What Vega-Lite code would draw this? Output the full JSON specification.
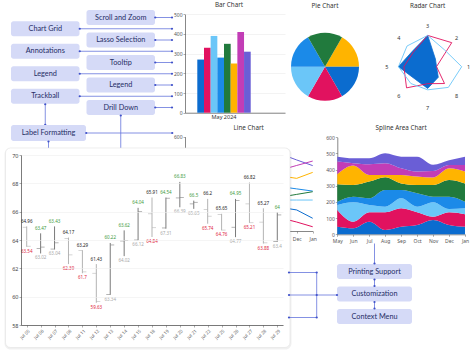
{
"$schema": "https://vega.github.io/schema/vega-lite/v6.json",
"width": 474, "height": 356, "padding": 0, "autosize": {"type": "none"},
"background": "#ffffff",
"config": {
  "view": {"stroke": null},
  "font": "Noto Sans",
  "axis": {"labelFont": "Noto Sans", "labelFontSize": 5, "labelColor": "#555555", "domainColor": "#555555", "domainWidth": 0.7, "tickColor": "#777777", "tickSize": 2, "tickWidth": 0.6, "labelPadding": 1, "gridColor": "#ebebeb", "gridWidth": 0.6, "grid": false}
},
"datasets": {
  "boxes": [
    {"key": "scroll", "label": "Scroll and Zoom", "col": "mid"},
    {"key": "chartgrid", "label": "Chart Grid", "col": "left"},
    {"key": "lasso", "label": "Lasso Selection", "col": "mid"},
    {"key": "annotations", "label": "Annotations", "col": "left"},
    {"key": "tooltip", "label": "Tooltip", "col": "mid"},
    {"key": "legend1", "label": "Legend", "col": "left"},
    {"key": "legend2", "label": "Legend", "col": "mid"},
    {"key": "trackball", "label": "Trackball", "col": "left"},
    {"key": "drill", "label": "Drill Down", "col": "mid"}
  ],
  "right": [
    {"key": "print", "label": "Printing Support"},
    {"key": "custom", "label": "Customization"},
    {"key": "context", "label": "Context Menu"}
  ],
  "bars": [
    {"month": "May 2024", "s": "s1", "v": 270},
    {"month": "May 2024", "s": "s2", "v": 330},
    {"month": "May 2024", "s": "s3", "v": 390},
    {"month": "May 2024", "s": "s4", "v": 280},
    {"month": "May 2024", "s": "s5", "v": 350},
    {"month": "May 2024", "s": "s6", "v": 250},
    {"month": "May 2024", "s": "s7", "v": 410},
    {"month": "May 2024", "s": "s8", "v": 310}
  ],
  "pie": [
    {"slice": "A", "value": 60},
    {"slice": "B", "value": 60},
    {"slice": "C", "value": 60},
    {"slice": "D", "value": 60},
    {"slice": "E", "value": 60},
    {"slice": "F", "value": 60}
  ],
  "radar": [
    {"series": "blue", "axis": 1, "value": 1.3}, {"series": "blue", "axis": 2, "value": 1.6}, {"series": "blue", "axis": 3, "value": 4.6}, {"series": "blue", "axis": 4, "value": 3.2},
    {"series": "blue", "axis": 5, "value": 4.3}, {"series": "blue", "axis": 6, "value": 2.6}, {"series": "blue", "axis": 7, "value": 3.2}, {"series": "blue", "axis": 8, "value": 2.2},
    {"series": "crimson", "axis": 1, "value": 1.3}, {"series": "crimson", "axis": 2, "value": 5.0}, {"series": "crimson", "axis": 3, "value": 4.6}, {"series": "crimson", "axis": 4, "value": 3.0},
    {"series": "crimson", "axis": 5, "value": 3.5}, {"series": "crimson", "axis": 6, "value": 4.4}, {"series": "crimson", "axis": 7, "value": 2.5}, {"series": "crimson", "axis": 8, "value": 3.5},
    {"series": "light", "axis": 1, "value": 5.0}, {"series": "light", "axis": 2, "value": 3.5}, {"series": "light", "axis": 3, "value": 4.6}, {"series": "light", "axis": 4, "value": 4.3},
    {"series": "light", "axis": 5, "value": 4.3}, {"series": "light", "axis": 6, "value": 3.5}, {"series": "light", "axis": 7, "value": 3.4}, {"series": "light", "axis": 8, "value": 4.3}
  ],
  "lines": [
    {"s": "s8", "m": "Nov", "v": 490}, {"s": "s8", "m": "Dec", "v": 452}, {"s": "s8", "m": "Jan", "v": 416},
    {"s": "s7", "m": "Nov", "v": 388}, {"s": "s7", "m": "Dec", "v": 417}, {"s": "s7", "m": "Jan", "v": 445},
    {"s": "s6", "m": "Nov", "v": 350}, {"s": "s6", "m": "Dec", "v": 335}, {"s": "s6", "m": "Jan", "v": 373},
    {"s": "s4", "m": "Nov", "v": 282}, {"s": "s4", "m": "Dec", "v": 268}, {"s": "s4", "m": "Jan", "v": 254},
    {"s": "s5", "m": "Nov", "v": 216}, {"s": "s5", "m": "Dec", "v": 233}, {"s": "s5", "m": "Jan", "v": 250},
    {"s": "s3", "m": "Nov", "v": 197}, {"s": "s3", "m": "Dec", "v": 197}, {"s": "s3", "m": "Jan", "v": 197},
    {"s": "s1", "m": "Nov", "v": 150}, {"s": "s1", "m": "Dec", "v": 134}, {"s": "s1", "m": "Jan", "v": 81},
    {"s": "s2", "m": "Nov", "v": 83}, {"s": "s2", "m": "Dec", "v": 57}, {"s": "s2", "m": "Jan", "v": 27}
  ],
  "spline": [
    {"s": "s1", "m": "May", "v": 47}, {"s": "s1", "m": "Jun", "v": 37}, {"s": "s1", "m": "Jul", "v": 78}, {"s": "s1", "m": "Aug", "v": 27}, {"s": "s1", "m": "Sep", "v": 47}, {"s": "s1", "m": "Oct", "v": 58}, {"s": "s1", "m": "Nov", "v": 89}, {"s": "s1", "m": "Dec", "v": 58}, {"s": "s1", "m": "Jan", "v": 47},
    {"s": "s2", "m": "May", "v": 103}, {"s": "s2", "m": "Jun", "v": 41}, {"s": "s2", "m": "Jul", "v": 58}, {"s": "s2", "m": "Aug", "v": 109}, {"s": "s2", "m": "Sep", "v": 114}, {"s": "s2", "m": "Oct", "v": 78}, {"s": "s2", "m": "Nov", "v": 20}, {"s": "s2", "m": "Dec", "v": 78}, {"s": "s2", "m": "Jan", "v": 77},
    {"s": "s3", "m": "May", "v": 31}, {"s": "s3", "m": "Jun", "v": 120}, {"s": "s3", "m": "Jul", "v": 45}, {"s": "s3", "m": "Aug", "v": 35}, {"s": "s3", "m": "Sep", "v": 62}, {"s": "s3", "m": "Oct", "v": 35}, {"s": "s3", "m": "Nov", "v": 89}, {"s": "s3", "m": "Dec", "v": 20}, {"s": "s3", "m": "Jan", "v": 37},
    {"s": "s4", "m": "May", "v": 21}, {"s": "s4", "m": "Jun", "v": 35}, {"s": "s4", "m": "Jul", "v": 42}, {"s": "s4", "m": "Aug", "v": 103}, {"s": "s4", "m": "Sep", "v": 51}, {"s": "s4", "m": "Oct", "v": 83}, {"s": "s4", "m": "Nov", "v": 35}, {"s": "s4", "m": "Dec", "v": 77}, {"s": "s4", "m": "Jan", "v": 41},
    {"s": "s5", "m": "May", "v": 107}, {"s": "s5", "m": "Jun", "v": 72}, {"s": "s5", "m": "Jul", "v": 103}, {"s": "s5", "m": "Aug", "v": 79}, {"s": "s5", "m": "Sep", "v": 41}, {"s": "s5", "m": "Oct", "v": 51}, {"s": "s5", "m": "Nov", "v": 72}, {"s": "s5", "m": "Dec", "v": 103}, {"s": "s5", "m": "Jan", "v": 113},
    {"s": "s6", "m": "May", "v": 62}, {"s": "s6", "m": "Jun", "v": 120}, {"s": "s6", "m": "Jul", "v": 41}, {"s": "s6", "m": "Aug", "v": 14}, {"s": "s6", "m": "Sep", "v": 52}, {"s": "s6", "m": "Oct", "v": 52}, {"s": "s6", "m": "Nov", "v": 46}, {"s": "s6", "m": "Dec", "v": 72}, {"s": "s6", "m": "Jan", "v": 73},
    {"s": "s7", "m": "May", "v": 79}, {"s": "s7", "m": "Jun", "v": 15}, {"s": "s7", "m": "Jul", "v": 66}, {"s": "s7", "m": "Aug", "v": 72}, {"s": "s7", "m": "Sep", "v": 41}, {"s": "s7", "m": "Oct", "v": 31}, {"s": "s7", "m": "Nov", "v": 40}, {"s": "s7", "m": "Dec", "v": 20}, {"s": "s7", "m": "Jan", "v": 41},
    {"s": "s8", "m": "May", "v": 30}, {"s": "s8", "m": "Jun", "v": 30}, {"s": "s8", "m": "Jul", "v": 37}, {"s": "s8", "m": "Aug", "v": 62}, {"s": "s8", "m": "Sep", "v": 72}, {"s": "s8", "m": "Oct", "v": 92}, {"s": "s8", "m": "Nov", "v": 39}, {"s": "s8", "m": "Dec", "v": 30}, {"s": "s8", "m": "Jan", "v": 51}
  ],
  "ohlc": [
    {"d": "Jul 05", "o": 64.9, "h": 64.96, "l": 63.52, "c": 63.56, "t": "bear", "hl": "64.96", "ll": "63.54"},
    {"d": "Jul 06", "o": 63.4, "h": 64.47, "l": 63.05, "c": 63.5, "t": "bull", "hl": "63.47", "ll": "63.02"},
    {"d": "Jul 07", "o": 63.36, "h": 64.96, "l": 63.33, "c": 63.8, "t": "bull", "hl": "63.43", "ll": "63.04"},
    {"d": "Jul 08", "o": 64.1, "h": 64.17, "l": 62.3, "c": 62.95, "t": "bear", "hl": "64.17", "ll": "62.39"},
    {"d": "Jul 11", "o": 63.25, "h": 63.28, "l": 61.65, "c": 61.75, "t": "bear", "hl": "63.29", "ll": "61.7"},
    {"d": "Jul 12", "o": 61.65, "h": 62.3, "l": 59.57, "c": 59.65, "t": "bear", "hl": "61.43", "ll": "59.63"},
    {"d": "Jul 13", "o": 60.15, "h": 63.79, "l": 60.13, "c": 63.65, "t": "bull", "hl": "60.22", "ll": "63.34"},
    {"d": "Jul 14", "o": 63.93, "h": 64.68, "l": 62.86, "c": 63.95, "t": "bull", "hl": "63.62", "ll": "64.02"},
    {"d": "Jul 15", "o": 64.0, "h": 66.27, "l": 63.98, "c": 66.0, "t": "bull", "hl": "64.04", "ll": "66.12"},
    {"d": "Jul 18", "o": 65.85, "h": 67.0, "l": 64.21, "c": 64.87, "t": "bear", "hl": "65.91", "ll": "64.84"},
    {"d": "Jul 19", "o": 64.85, "h": 67.0, "l": 64.8, "c": 66.95, "t": "bull", "hl": "64.54", "ll": "67.31"},
    {"d": "Jul 20", "o": 66.97, "h": 68.1, "l": 66.31, "c": 67.0, "t": "bull", "hl": "66.83", "ll": "66.39"},
    {"d": "Jul 21", "o": 66.55, "h": 66.78, "l": 66.2, "c": 66.66, "t": "bull", "hl": "66.5", "ll": "65.65"},
    {"d": "Jul 22", "o": 66.15, "h": 66.9, "l": 65.15, "c": 65.68, "t": "bear", "hl": "66.2", "ll": "65.74"},
    {"d": "Jul 25", "o": 65.8, "h": 65.85, "l": 64.68, "c": 64.7, "t": "bear", "hl": "65.65", "ll": "64.76"},
    {"d": "Jul 26", "o": 64.9, "h": 66.9, "l": 64.2, "c": 66.78, "t": "bull", "hl": "64.95", "ll": "64.77"},
    {"d": "Jul 27", "o": 66.55, "h": 68.06, "l": 65.21, "c": 65.22, "t": "bear", "hl": "66.82", "ll": "65.21"},
    {"d": "Jul 28", "o": 65.26, "h": 66.24, "l": 63.75, "c": 63.8, "t": "bear", "hl": "65.27", "ll": "63.88"},
    {"d": "Jul 29", "o": 63.9, "h": 65.96, "l": 63.88, "c": 65.77, "t": "bull", "hl": "64", "ll": "63.4"}
  ]
},
"resolve": {
  "scale": {"x": "independent", "y": "independent", "color": "independent", "theta": "independent", "size": "independent", "xOffset": "independent"},
  "axis": {"x": "independent", "y": "independent"},
  "legend": {"color": "independent", "size": "independent"}
},
"layer": [
  {
    "data": {"name": "boxes"},
    "encoding": {
      "x": {"field": "col", "type": "nominal", "scale": {"type": "point", "domain": ["left", "mid"], "range": [45.25, 120.75], "padding": 0}, "axis": null},
      "y": {"field": "key", "type": "nominal", "scale": {"type": "point", "domain": ["scroll", "chartgrid", "lasso", "annotations", "tooltip", "legend1", "legend2", "trackball", "drill"], "range": [17.5, 107.5], "padding": 0}, "axis": null}
    },
    "layer": [
      {"transform": [{"filter": "datum.col == 'left'"}], "mark": {"type": "rule", "color": "#6575dc", "strokeWidth": 0.8, "xOffset": 34, "x2Offset": 126.75}, "encoding": {"x2": {"field": "col"}}},
      {"transform": [{"filter": "datum.col == 'mid'"}], "mark": {"type": "rule", "color": "#6575dc", "strokeWidth": 0.8, "xOffset": 34, "x2Offset": 51.25}, "encoding": {"x2": {"field": "col"}}},
      {"transform": [{"filter": "datum.key == 'trackball'"}], "mark": {"type": "rule", "color": "#6575dc", "strokeWidth": 0.8, "yOffset": 7.5, "y2Offset": 28.5}, "encoding": {"y2": {"field": "key"}}},
      {"transform": [{"filter": "datum.key == 'drill'"}], "mark": {"type": "rule", "color": "#6575dc", "strokeWidth": 0.8, "yOffset": 7.5, "y2Offset": 45}, "encoding": {"y2": {"field": "key"}}},
      {"mark": {"type": "rect", "color": "#d5daf7", "cornerRadius": 2.5, "xOffset": -34.25, "x2Offset": 34.25, "yOffset": -7.5, "y2Offset": 7.5}, "encoding": {"x2": {"field": "col"}, "y2": {"field": "key"}}},
      {"mark": {"type": "circle", "size": 5, "color": "#3f51c9", "opacity": 1, "xOffset": 34.5}},
      {"transform": [{"filter": "datum.col == 'left'"}], "mark": {"type": "circle", "size": 5, "color": "#3f51c9", "opacity": 1, "xOffset": 126.75}},
      {"transform": [{"filter": "datum.col == 'mid'"}], "mark": {"type": "circle", "size": 5, "color": "#3f51c9", "opacity": 1, "xOffset": 51.25}},
      {"transform": [{"filter": "datum.key == 'trackball' || datum.key == 'drill'"}], "mark": {"type": "circle", "size": 5, "color": "#3f51c9", "opacity": 1, "yOffset": 8}},
      {"transform": [{"filter": "datum.key == 'trackball'"}], "mark": {"type": "circle", "size": 5, "color": "#3f51c9", "opacity": 1, "yOffset": 28.5}},
      {"mark": {"type": "text", "font": "Lato", "fontSize": 7.3, "color": "#262e66"}, "encoding": {"text": {"field": "label"}}}
    ]
  },
  {
    "data": {"values": [{"key": "lf", "label": "Label Formatting"}]},
    "encoding": {
      "x": {"field": "key", "type": "nominal", "scale": {"type": "point", "domain": ["lf"], "range": [47.5, 49.5]}, "axis": null},
      "y": {"field": "key", "type": "nominal", "scale": {"type": "point", "domain": ["lf"], "range": [132, 134]}, "axis": null}
    },
    "layer": [
      {"mark": {"type": "rule", "color": "#6575dc", "strokeWidth": 0.8, "xOffset": 37, "x2Offset": 123.75}, "encoding": {"x2": {"field": "key"}}},
      {"mark": {"type": "rule", "color": "#6575dc", "strokeWidth": 0.8, "yOffset": 8, "y2Offset": 25}, "encoding": {"y2": {"field": "key"}}},
      {"mark": {"type": "rect", "color": "#d5daf7", "cornerRadius": 2.5, "xOffset": -37.5, "x2Offset": 37.5, "yOffset": -8, "y2Offset": 8}, "encoding": {"x2": {"field": "key"}, "y2": {"field": "key"}}},
      {"mark": {"type": "circle", "size": 5, "color": "#3f51c9", "opacity": 1, "xOffset": 37.75}},
      {"mark": {"type": "circle", "size": 5, "color": "#3f51c9", "opacity": 1, "xOffset": 123.75}},
      {"mark": {"type": "circle", "size": 5, "color": "#3f51c9", "opacity": 1, "yOffset": 8.5}},
      {"mark": {"type": "text", "font": "Lato", "fontSize": 7.3, "color": "#262e66"}, "encoding": {"text": {"field": "label"}}}
    ]
  },
  {
    "layer": [
      {
        "data": {"name": "bars"},
        "mark": {"type": "bar"},
        "encoding": {
          "x": {"field": "month", "type": "nominal", "title": null, "scale": {"type": "band", "domain": ["May 2024"], "range": [185, 285], "paddingInner": 0, "paddingOuter": 0.436, "align": 0.264}, "axis": {"orient": "bottom", "offset": -243.3, "labelAngle": 0, "ticks": false, "labelFontSize": 5.5, "labelColor": "#333333", "labelPadding": 2}},
          "xOffset": {"field": "s", "type": "nominal", "scale": {"paddingInner": 0}},
          "y": {"field": "v", "type": "quantitative", "title": null, "scale": {"domain": [0, 500], "range": [112.7, 14.3], "nice": false}, "axis": {"orient": "left", "offset": -185, "values": [0, 100, 200, 300, 400, 500], "grid": true}},
          "color": {"field": "s", "type": "nominal", "scale": {"domain": ["s1", "s2", "s3", "s4", "s5", "s6", "s7", "s8"], "range": ["#0b6ccf", "#e1125f", "#6bc6f8", "#1b8ae8", "#217a3d", "#ffb400", "#c23db6", "#6a5ed6"]}, "legend": null}
        }
      },
      {
        "data": {"values": [{"t": "Bar Chart"}]},
        "mark": {"type": "text", "fontSize": 6.3, "color": "#333333", "yOffset": -9, "xOffset": 5},
        "encoding": {"x": {"datum": "May 2024"}, "y": {"datum": 500}, "text": {"field": "t"}}
      }
    ]
  },
  {
    "layer": [
      {
        "data": {"name": "pie"},
        "mark": {"type": "arc", "outerRadius": 34},
        "encoding": {
          "theta": {"field": "value", "type": "quantitative", "stack": true, "scale": {"range": [0.5236, 6.8068]}},
          "order": {"field": "slice", "sort": "ascending"},
          "color": {"field": "slice", "type": "nominal", "scale": {"domain": ["A", "B", "C", "D", "E", "F"], "range": ["#ffb400", "#0b6ccf", "#e1125f", "#6bc6f8", "#1b8ae8", "#217a3d"]}, "legend": null},
          "x": {"datum": 0, "type": "quantitative", "scale": {"domain": [-1, 1], "range": [291, 359]}, "axis": null},
          "y": {"datum": 0, "type": "quantitative", "scale": {"domain": [-1, 1], "range": [100.7, 32.7]}, "axis": null}
        }
      },
      {
        "data": {"values": [{"t": "Pie Chart"}]},
        "mark": {"type": "text", "fontSize": 6.3, "color": "#333333", "yOffset": -27},
        "encoding": {"x": {"datum": 0, "type": "quantitative"}, "y": {"datum": 1, "type": "quantitative"}, "text": {"field": "t"}}
      }
    ]
  },
  {
    "data": {"values": [{"t": "Radar Chart"}]},
    "mark": {"type": "text", "fontSize": 6.3, "color": "#333333"},
    "encoding": {
      "x": {"datum": 0, "type": "quantitative", "scale": {"domain": [-1, 1], "range": [426.7, 428.7]}, "axis": null},
      "y": {"datum": 0, "type": "quantitative", "scale": {"domain": [-1, 1], "range": [6.7, 4.7]}, "axis": null},
      "text": {"field": "t"}
    }
  },
  {
    "encoding": {
      "x": {"field": "px", "type": "quantitative", "scale": {"domain": [-5, 5], "range": [393.7, 461.7], "nice": false, "zero": false}, "axis": null},
      "y": {"field": "py", "type": "quantitative", "scale": {"domain": [-5, 5], "range": [100.7, 32.7], "nice": false, "zero": false}, "axis": null}
    },
    "layer": [
      {
        "data": {"values": [{"r": 1}, {"r": 2}, {"r": 3}, {"r": 4}, {"r": 5}]},
        "mark": {"type": "point", "shape": "circle", "filled": false, "strokeWidth": 0.5, "color": "#f0c6d2", "opacity": 1},
        "encoding": {
          "x": {"datum": 0, "type": "quantitative"}, "y": {"datum": 0, "type": "quantitative"},
          "size": {"field": "r", "type": "quantitative", "scale": {"type": "pow", "exponent": 2, "domain": [0, 5], "range": [0, 4624]}, "legend": null}
        }
      },
      {
        "data": {"name": "radar"},
        "transform": [
          {"calculate": "(datum.axis - 1) * PI / 4", "as": "ang"},
          {"calculate": "datum.value * cos(datum.ang)", "as": "px"},
          {"calculate": "datum.value * sin(datum.ang)", "as": "py"}
        ],
        "layer": [
          {"transform": [{"filter": "datum.series == 'blue'"}], "mark": {"type": "line", "interpolate": "linear-closed", "fill": "#0b6ccf", "stroke": "#0b6ccf", "strokeWidth": 0.8}, "encoding": {"order": {"field": "axis", "type": "quantitative"}}},
          {"transform": [{"filter": "datum.series == 'crimson'"}], "mark": {"type": "line", "interpolate": "linear-closed", "stroke": "#e1125f", "strokeWidth": 0.9}, "encoding": {"order": {"field": "axis", "type": "quantitative"}}},
          {"transform": [{"filter": "datum.series == 'light'"}], "mark": {"type": "line", "interpolate": "linear-closed", "stroke": "#6bc6f8", "strokeWidth": 0.9}, "encoding": {"order": {"field": "axis", "type": "quantitative"}}}
        ]
      },
      {
        "data": {"values": [{"v": 0}, {"v": 1}, {"v": 2}, {"v": 3}, {"v": 4}, {"v": 5}]},
        "layer": [
          {"mark": {"type": "rule", "color": "#333333", "strokeWidth": 0.7}, "encoding": {"x": {"datum": 0, "type": "quantitative"}, "x2": {"datum": 5}, "y": {"datum": 0, "type": "quantitative"}}},
          {"mark": {"type": "text", "fontSize": 4.5, "dy": 5, "color": "#333333"}, "encoding": {"x": {"field": "v", "type": "quantitative"}, "y": {"datum": 0, "type": "quantitative"}, "text": {"field": "v"}}}
        ]
      },
      {
        "data": {"values": [{"axis": 1}, {"axis": 2}, {"axis": 3}, {"axis": 4}, {"axis": 5}, {"axis": 6}, {"axis": 7}, {"axis": 8}]},
        "transform": [
          {"calculate": "(datum.axis - 1) * PI / 4", "as": "ang"},
          {"calculate": "6 * cos(datum.ang)", "as": "px"},
          {"calculate": "6 * sin(datum.ang)", "as": "py"}
        ],
        "mark": {"type": "text", "fontSize": 5.5, "color": "#333333"},
        "encoding": {"text": {"field": "axis"}}
      }
    ]
  },
  {
    "layer": [
      {
        "data": {"name": "lines"},
        "mark": {"type": "line", "strokeWidth": 1},
        "encoding": {
          "x": {"field": "m", "type": "ordinal", "title": null, "scale": {"type": "point", "domain": ["May", "Jun", "Jul", "Aug", "Sep", "Oct", "Nov", "Dec", "Jan"], "range": [184.7, 312.7], "padding": 0}, "axis": {"orient": "bottom", "offset": -125, "labelAngle": 0, "labelPadding": 3, "values": ["Dec", "Jan"]}},
          "y": {"field": "v", "type": "quantitative", "title": null, "scale": {"domain": [0, 600], "range": [231, 136.7], "nice": false}, "axis": {"orient": "left", "offset": -185, "values": [600]}},
          "color": {"field": "s", "type": "nominal", "scale": {"domain": ["s1", "s2", "s3", "s4", "s5", "s6", "s7", "s8"], "range": ["#0b6ccf", "#e1125f", "#6bc6f8", "#1b8ae8", "#217a3d", "#ffb400", "#c23db6", "#6a5ed6"]}, "legend": null}
        }
      },
      {
        "data": {"values": [{"t": "Line Chart"}]},
        "mark": {"type": "text", "fontSize": 6.3, "color": "#333333", "yOffset": -9},
        "encoding": {"x": {"datum": "Sep"}, "y": {"datum": 600}, "text": {"field": "t"}}
      }
    ]
  },
  {
    "layer": [
      {
        "data": {"name": "spline"},
        "mark": {"type": "area", "interpolate": "monotone"},
        "encoding": {
          "x": {"field": "m", "type": "ordinal", "title": null, "scale": {"type": "point", "domain": ["May", "Jun", "Jul", "Aug", "Sep", "Oct", "Nov", "Dec", "Jan"], "range": [337.3, 465], "padding": 0}, "axis": {"orient": "bottom", "offset": -121.7, "labelAngle": 0, "labelPadding": 2}},
          "y": {"field": "v", "type": "quantitative", "title": null, "stack": "zero", "scale": {"domain": [0, 600], "range": [234.3, 137.3], "nice": false}, "axis": {"orient": "left", "offset": -337.3, "values": [0, 100, 200, 300, 400, 500, 600]}},
          "color": {"field": "s", "type": "nominal", "scale": {"domain": ["s1", "s2", "s3", "s4", "s5", "s6", "s7", "s8"], "range": ["#0b6ccf", "#e1125f", "#6bc6f8", "#1b8ae8", "#217a3d", "#ffb400", "#c23db6", "#6a5ed6"]}, "legend": null},
          "order": {"field": "s", "sort": "ascending"}
        }
      },
      {
        "data": {"values": [{"t": "Spline Area Chart"}]},
        "mark": {"type": "text", "fontSize": 6.3, "color": "#333333", "yOffset": -9},
        "encoding": {"x": {"datum": "Sep"}, "y": {"datum": 600}, "text": {"field": "t"}}
      }
    ]
  },
  {
    "data": {"values": [{"panel": "card"}]},
    "encoding": {
      "x": {"datum": 0, "type": "quantitative", "scale": {"domain": [0, 1], "range": [5.5, 290]}, "axis": null},
      "x2": {"datum": 1},
      "y": {"datum": 0, "type": "quantitative", "scale": {"domain": [0, 1], "range": [148, 347.5]}, "axis": null},
      "y2": {"datum": 1}
    },
    "layer": [
      {"mark": {"type": "rect", "cornerRadius": 6, "color": "#000000", "opacity": 0.06, "xOffset": -1, "x2Offset": 1.5, "yOffset": 0, "y2Offset": 2}},
      {"mark": {"type": "rect", "cornerRadius": 5, "fill": "#ffffff", "stroke": "#e2e2e2", "strokeWidth": 0.6}}
    ]
  },
  {
    "data": {"name": "ohlc"},
    "encoding": {
      "x": {"field": "d", "type": "ordinal", "title": null, "scale": {"type": "point", "domain": ["Jul 05", "Jul 06", "Jul 07", "Jul 08", "Jul 11", "Jul 12", "Jul 13", "Jul 14", "Jul 15", "Jul 18", "Jul 19", "Jul 20", "Jul 21", "Jul 22", "Jul 25", "Jul 26", "Jul 27", "Jul 28", "Jul 29"], "range": [21, 283], "padding": 0.41}, "axis": {"orient": "bottom", "offset": -31, "zindex": 1, "labelAngle": -45, "labelFontSize": 4.5, "labelColor": "#666666", "domainColor": "#444444"}}
    },
    "layer": [
      {
        "mark": {"type": "rule", "strokeWidth": 1},
        "encoding": {
          "y": {"field": "l", "type": "quantitative", "title": null, "scale": {"domain": [58, 70], "range": [325, 155], "nice": false, "zero": false}, "axis": {"orient": "left", "offset": -21, "zindex": 1, "values": [58, 60, 62, 64, 66, 68, 70], "grid": true, "gridColor": "#efefef", "labelFontSize": 5.5, "labelColor": "#444444", "domainColor": "#444444"}},
          "y2": {"field": "h"},
          "color": {"condition": {"test": "datum.t == 'bull'", "value": "#7a7a7a"}, "value": "#b3b3b3"}
        }
      },
      {
        "mark": {"type": "tick", "size": 4, "thickness": 0.8, "xOffset": -2, "orient": "horizontal"},
        "encoding": {"y": {"field": "o", "type": "quantitative"}, "color": {"condition": {"test": "datum.t == 'bull'", "value": "#7a7a7a"}, "value": "#b3b3b3"}}
      },
      {
        "mark": {"type": "tick", "size": 4, "thickness": 0.8, "xOffset": 2, "orient": "horizontal"},
        "encoding": {"y": {"field": "c", "type": "quantitative"}, "color": {"condition": {"test": "datum.t == 'bull'", "value": "#7a7a7a"}, "value": "#b3b3b3"}}
      },
      {
        "mark": {"type": "text", "fontSize": 4.5, "dy": -4.5},
        "encoding": {"y": {"field": "h", "type": "quantitative"}, "text": {"field": "hl"}, "color": {"condition": {"test": "datum.t == 'bull'", "value": "#3d9a3d"}, "value": "#222222"}}
      },
      {
        "mark": {"type": "text", "fontSize": 4.5, "dy": 5},
        "encoding": {"y": {"field": "l", "type": "quantitative"}, "text": {"field": "ll"}, "color": {"condition": {"test": "datum.t == 'bull'", "value": "#a8a8a8"}, "value": "#e0253c"}}
      }
    ]
  },
  {
    "data": {"name": "right"},
    "encoding": {
      "x": {"datum": "r", "type": "nominal", "scale": {"type": "point", "domain": ["r"], "range": [373.5, 375.5]}, "axis": null},
      "y": {"field": "key", "type": "nominal", "scale": {"type": "point", "domain": ["print", "custom", "context"], "range": [271.5, 316.5], "padding": 0}, "axis": null}
    },
    "layer": [
      {"mark": {"type": "rule", "color": "#6575dc", "strokeWidth": 0.8, "xOffset": -85.5, "x2Offset": -57.8, "yOffset": 1}, "encoding": {"x2": {"datum": "r"}}},
      {"transform": [{"filter": "datum.key == 'print'"}], "mark": {"type": "rule", "color": "#6575dc", "strokeWidth": 0.8, "xOffset": -57.8, "yOffset": 1, "y2Offset": 1}, "encoding": {"y2": {"datum": "context"}}},
      {"transform": [{"filter": "datum.key == 'custom'"}], "mark": {"type": "rule", "color": "#6575dc", "strokeWidth": 0.8, "xOffset": -57.8, "x2Offset": -37.5, "yOffset": 1}, "encoding": {"x2": {"datum": "r"}}},
      {"transform": [{"filter": "datum.key == 'print'"}], "mark": {"type": "rule", "color": "#6575dc", "strokeWidth": 0.8, "yOffset": -28, "y2Offset": -7.5}, "encoding": {"y2": {"field": "key"}}},
      {"transform": [{"filter": "datum.key != 'context'"}], "mark": {"type": "rule", "color": "#6575dc", "strokeWidth": 0.8, "yOffset": 7.5, "y2Offset": 15}, "encoding": {"y2": {"field": "key"}}},
      {"mark": {"type": "rect", "color": "#d5daf7", "cornerRadius": 2.5, "xOffset": -37.5, "x2Offset": 37.5, "yOffset": -7.5, "y2Offset": 7.5}, "encoding": {"x2": {"datum": "r"}, "y2": {"field": "key"}}},
      {"mark": {"type": "circle", "size": 5, "color": "#3f51c9", "opacity": 1, "xOffset": -85.5, "yOffset": 1}},
      {"mark": {"type": "circle", "size": 5, "color": "#3f51c9", "opacity": 1, "xOffset": -57.8, "yOffset": 1}},
      {"transform": [{"filter": "datum.key == 'custom'"}], "mark": {"type": "circle", "size": 5, "color": "#3f51c9", "opacity": 1, "xOffset": -37.5, "yOffset": 1}},
      {"mark": {"type": "circle", "size": 5, "color": "#3f51c9", "opacity": 1, "yOffset": -8}},
      {"transform": [{"filter": "datum.key != 'context'"}], "mark": {"type": "circle", "size": 5, "color": "#3f51c9", "opacity": 1, "yOffset": 8}},
      {"mark": {"type": "text", "font": "Lato", "fontSize": 7.3, "color": "#262e66"}, "encoding": {"text": {"field": "label"}}}
    ]
  }
]
}
